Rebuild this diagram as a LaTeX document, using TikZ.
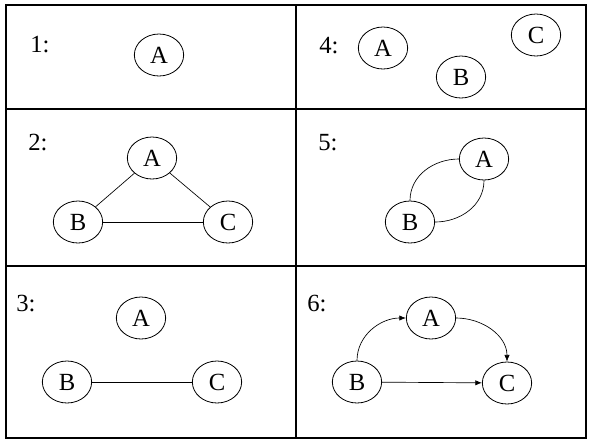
\documentclass[tikz,border=0pt]{standalone}
\usepackage{fontspec}
\setmainfont{Liberation Serif}
\usetikzlibrary{shapes.geometric,arrows.meta}
\begin{document}
\begin{tikzpicture}[x=0.75pt, y=-0.75pt,
  every node/.style={font=\fontsize{18.5}{21}\selectfont},
  vertex/.style={ellipse, draw, line width=0.6pt, inner sep=0pt,
    minimum width=37pt, minimum height=31.5pt},
  edge/.style={line width=0.5pt},
  arc/.style={line width=0.5pt, -{Latex[length=5pt,width=4pt]}}]
  \useasboundingbox (0,0) rectangle (590,444);
  % frame
  \draw[line width=1pt] (6,5) rectangle (586,438);
  \draw[line width=1pt] (296,5) -- (296,438);
  \draw[line width=1pt] (6,109) -- (586,109);
  \draw[line width=1pt] (6,266) -- (586,266);
  % 1
  \node (l1) at (40,45) {1:};
  \node[vertex] (a1) at (159,55) {A};
  % 2
  \node (l2) at (38,143) {2:};
  \node[vertex] (a2) at (152,158) {A};
  \node[vertex] (b2) at (78,222) {B};
  \node[vertex] (c2) at (228,222) {C};
  \draw[edge] (a2) -- (b2);
  \draw[edge] (a2) -- (c2);
  \draw[edge] (b2) -- (c2);
  % 3
  \node (l3) at (26,304) {3:};
  \node[vertex] (a3) at (141,318) {A};
  \node[vertex] (b3) at (67,382) {B};
  \node[vertex] (c3) at (217,382) {C};
  \draw[edge] (b3) -- (c3);
  % 4
  \node (l4) at (329,46) {4:};
  \node[vertex] (a4) at (383,48) {A};
  \node[vertex] (b4) at (461,77) {B};
  \node[vertex] (c4) at (536,35) {C};
  % 5
  \node (l5) at (328,143) {5:};
  \node[vertex] (a5) at (484,159) {A};
  \node[vertex] (b5) at (410,222) {B};
  \draw[edge] (b5.north) to[out=90, in=180] (a5.west);
  \draw[edge] (b5.east) to[out=0, in=270] (a5.south);
  % 6
  \node (l6) at (317,304) {6:};
  \node[vertex] (a6) at (431,318) {A};
  \node[vertex] (b6) at (357,382) {B};
  \node[vertex] (c6) at (507,383) {C};
  \draw[arc] (b6.north) to[out=90, in=180] (a6.west);
  \draw[arc] (a6.east) to[out=0, in=90] (c6.north);
  \draw[arc] (b6) -- (c6);
\end{tikzpicture}
\end{document}
